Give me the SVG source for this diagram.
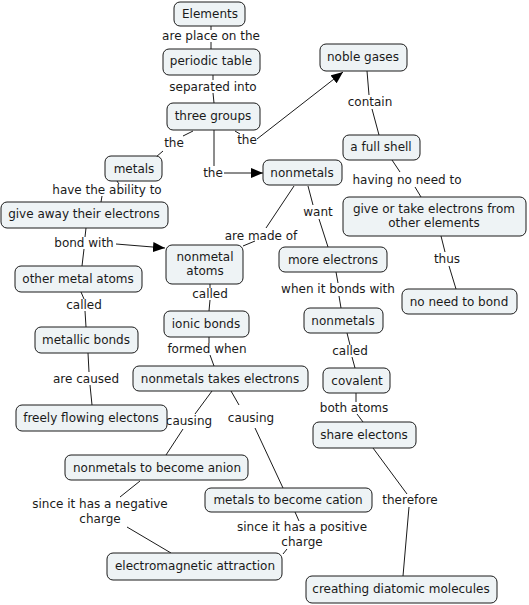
<svg xmlns="http://www.w3.org/2000/svg" width="529" height="605" viewBox="0 0 529 605">
<defs>
<style>
.n rect{fill:#eef3f5;stroke:#1a1a1a;stroke-width:1}
text{font-family:"DejaVu Sans","Verdana",sans-serif;font-size:12px;fill:#1a1a1a;text-anchor:middle}
.c line{stroke:#1a1a1a;stroke-width:1}
</style>
<marker id="ar" markerWidth="12" markerHeight="10" refX="12" refY="5" orient="auto" markerUnits="userSpaceOnUse"><path d="M0,0 L12,5 L0,10 z" fill="#000"/></marker>
</defs>
<rect width="529" height="605" fill="#fff"/>
<g class="c">
<line x1="211" y1="26" x2="211" y2="30"/><line x1="211" y1="42" x2="211" y2="49"/>
<line x1="213" y1="75" x2="213" y2="80"/><line x1="213" y1="93" x2="214" y2="103"/>
<line x1="193" y1="131" x2="183" y2="136"/><line x1="163" y1="151" x2="156" y2="157"/>
<line x1="235" y1="131" x2="240" y2="134"/><line x1="257" y1="139" x2="343" y2="72" marker-end="url(#ar)"/>
<line x1="214" y1="130" x2="214" y2="166"/><line x1="224" y1="173" x2="263" y2="173" marker-end="url(#ar)"/>
<line x1="367" y1="71" x2="369" y2="95"/><line x1="372" y1="109" x2="379" y2="135"/>
<line x1="392" y1="160" x2="400" y2="172"/><line x1="415" y1="187" x2="421" y2="197"/>
<line x1="117" y1="181" x2="119" y2="184"/><line x1="102" y1="196" x2="101" y2="202"/>
<line x1="308" y1="186" x2="313" y2="205"/><line x1="319" y1="219" x2="328" y2="247"/>
<line x1="294" y1="186" x2="266" y2="228"/><line x1="255" y1="241" x2="243" y2="246"/>
<line x1="441" y1="236" x2="445" y2="252"/><line x1="449" y1="266" x2="456" y2="289"/>
<line x1="86" y1="228" x2="85" y2="237"/><line x1="84" y1="249" x2="82" y2="266"/>
<line x1="116" y1="244" x2="165" y2="248" marker-end="url(#ar)"/>
<line x1="336" y1="272" x2="338" y2="283"/><line x1="339" y1="296" x2="341" y2="308"/>
<line x1="81" y1="292" x2="84" y2="299"/><line x1="85" y1="311" x2="86" y2="327"/>
<line x1="210" y1="284" x2="210" y2="288"/><line x1="210" y1="300" x2="209" y2="311"/>
<line x1="347" y1="333" x2="350" y2="345"/><line x1="352" y1="357" x2="355" y2="368"/>
<line x1="88" y1="353" x2="89" y2="372"/><line x1="90" y1="385" x2="92" y2="405"/>
<line x1="209" y1="337" x2="209" y2="343"/><line x1="210" y1="355" x2="214" y2="366"/>
<line x1="356" y1="393" x2="356" y2="402"/><line x1="357" y1="414" x2="363" y2="422"/>
<line x1="212" y1="391" x2="195" y2="414"/><line x1="183" y1="429" x2="166" y2="455"/>
<line x1="231" y1="391" x2="239" y2="405"/><line x1="255" y1="428" x2="283" y2="488"/>
<line x1="373" y1="448" x2="407" y2="494"/><line x1="409" y1="507" x2="403" y2="576"/>
<line x1="140" y1="481" x2="120" y2="497"/><line x1="127" y1="527" x2="171" y2="553"/>
<line x1="295" y1="512" x2="299" y2="521"/><line x1="287" y1="549" x2="283" y2="554"/>
</g>
<g id="labels">
<text x="211" y="40">are place on the</text>
<text x="213" y="91">separated into</text>
<text x="174" y="147">the</text>
<text x="247" y="144">the</text>
<text x="213" y="177">the</text>
<text x="370" y="106">contain</text>
<text x="407" y="184">having no need to</text>
<text x="107" y="194">have the ability to</text>
<text x="318" y="216">want</text>
<text x="261" y="240">are made of</text>
<text x="84" y="247">bond with</text>
<text x="447" y="263">thus</text>
<text x="338" y="293">when it bonds with</text>
<text x="84" y="309">called</text>
<text x="210" y="298">called</text>
<text x="350" y="355">called</text>
<text x="86" y="383">are caused</text>
<text x="207" y="353">formed when</text>
<text x="354" y="412">both atoms</text>
<text x="189" y="425">causing</text>
<text x="251" y="422">causing</text>
<text x="410" y="504">therefore</text>
<text x="100" y="508">since it has a negative</text>
<text x="100" y="523">charge</text>
<text x="302" y="531">since it has a positive</text>
<text x="302" y="546">charge</text>
</g>
<g id="n-elements" class="n"><rect x="174" y="2" width="71" height="24" rx="6"/><text x="210" y="18">Elements</text></g>
<g id="n-periodic" class="n"><rect x="163" y="49" width="97" height="26" rx="6"/><text x="211" y="65">periodic table</text></g>
<g id="n-three" class="n"><rect x="167" y="103" width="93" height="27" rx="6"/><text x="213" y="120">three groups</text></g>
<g id="n-noble" class="n"><rect x="320" y="44" width="87" height="27" rx="6"/><text x="363" y="61">noble gases</text></g>
<g id="n-metals" class="n"><rect x="105" y="156" width="57" height="25" rx="6"/><text x="134" y="173">metals</text></g>
<g id="n-nonmetals1" class="n"><rect x="263" y="160" width="79" height="25" rx="6"/><text x="302" y="177">nonmetals</text></g>
<g id="n-fullshell" class="n"><rect x="343" y="135" width="77" height="25" rx="6"/><text x="381" y="151">a full shell</text></g>
<g id="n-giveortake" class="n"><rect x="343" y="197" width="183" height="39" rx="6"/><text x="434" y="213">give or take electrons from</text><text x="434" y="227">other elements</text></g>
<g id="n-giveaway" class="n"><rect x="1" y="202" width="167" height="26" rx="6"/><text x="84" y="218">give away their electrons</text></g>
<g id="n-nonmetalatoms" class="n"><rect x="166" y="245" width="77" height="39" rx="6"/><text x="205" y="261">nonmetal</text><text x="205" y="275">atoms</text></g>
<g id="n-moreelectrons" class="n"><rect x="279" y="247" width="108" height="25" rx="6"/><text x="333" y="264">more electrons</text></g>
<g id="n-othermetal" class="n"><rect x="15" y="266" width="127" height="26" rx="6"/><text x="78" y="283">other metal atoms</text></g>
<g id="n-noneed" class="n"><rect x="402" y="289" width="115" height="25" rx="6"/><text x="459" y="306">no need to bond</text></g>
<g id="n-ionic" class="n"><rect x="164" y="311" width="85" height="26" rx="6"/><text x="206" y="328">ionic bonds</text></g>
<g id="n-nonmetals2" class="n"><rect x="304" y="308" width="79" height="25" rx="6"/><text x="343" y="325">nonmetals</text></g>
<g id="n-metallic" class="n"><rect x="35" y="327" width="103" height="26" rx="6"/><text x="86" y="344">metallic bonds</text></g>
<g id="n-takes" class="n"><rect x="133" y="366" width="175" height="25" rx="6"/><text x="220" y="383">nonmetals takes electrons</text></g>
<g id="n-covalent" class="n"><rect x="323" y="368" width="67" height="25" rx="6"/><text x="357" y="385">covalent</text></g>
<g id="n-freely" class="n"><rect x="16" y="405" width="151" height="26" rx="6"/><text x="91" y="422">freely flowing electons</text></g>
<g id="n-share" class="n"><rect x="313" y="422" width="103" height="26" rx="6"/><text x="364" y="439">share electons</text></g>
<g id="n-anion" class="n"><rect x="65" y="455" width="183" height="25" rx="6"/><text x="157" y="472">nonmetals to become anion</text></g>
<g id="n-cation" class="n"><rect x="205" y="488" width="167" height="24" rx="6"/><text x="288" y="504">metals to become cation</text></g>
<g id="n-em" class="n"><rect x="107" y="553" width="175" height="27" rx="6"/><text x="195" y="570">electromagnetic attraction</text></g>
<g id="n-diatomic" class="n"><rect x="306" y="576" width="191" height="27" rx="6"/><text x="401" y="593">creathing diatomic molecules</text></g>
</svg>
